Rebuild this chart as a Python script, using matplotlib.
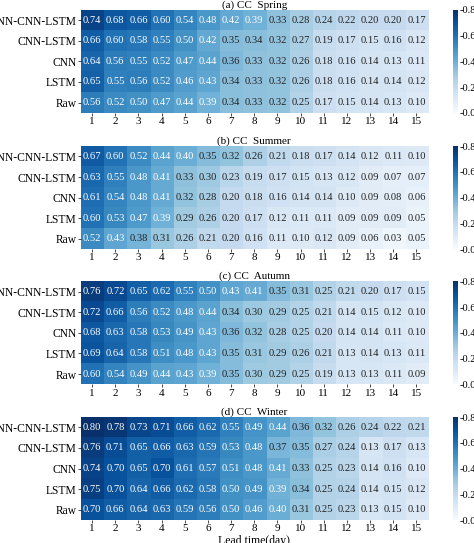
import numpy as np
import matplotlib
matplotlib.use("Agg")
import matplotlib.pyplot as plt

plt.rcParams['font.family'] = ['Liberation Serif', 'DejaVu Serif']

models = ["CNN-CNN-LSTM", "CNN-LSTM", "CNN", "LSTM", "Raw"]
lead_days = list(range(1, 16))
titles = ["(a) CC  Spring", "(b) CC  Summer", "(c) CC  Autumn", "(d) CC  Winter"]

spring = [
    [0.74, 0.68, 0.66, 0.60, 0.54, 0.48, 0.42, 0.39, 0.33, 0.28, 0.24, 0.22, 0.20, 0.20, 0.17],
    [0.66, 0.60, 0.58, 0.55, 0.50, 0.42, 0.35, 0.34, 0.32, 0.27, 0.19, 0.17, 0.15, 0.16, 0.12],
    [0.64, 0.56, 0.55, 0.52, 0.47, 0.44, 0.36, 0.33, 0.32, 0.26, 0.18, 0.16, 0.14, 0.13, 0.11],
    [0.65, 0.55, 0.56, 0.52, 0.46, 0.43, 0.34, 0.33, 0.32, 0.26, 0.18, 0.16, 0.14, 0.14, 0.12],
    [0.56, 0.52, 0.50, 0.47, 0.44, 0.39, 0.34, 0.33, 0.32, 0.25, 0.17, 0.15, 0.14, 0.13, 0.10],
]
summer = [
    [0.67, 0.60, 0.52, 0.44, 0.40, 0.35, 0.32, 0.26, 0.21, 0.18, 0.17, 0.14, 0.12, 0.11, 0.10],
    [0.63, 0.55, 0.48, 0.41, 0.33, 0.30, 0.23, 0.19, 0.17, 0.15, 0.13, 0.12, 0.09, 0.07, 0.07],
    [0.61, 0.54, 0.48, 0.41, 0.32, 0.28, 0.20, 0.18, 0.16, 0.14, 0.14, 0.10, 0.09, 0.08, 0.06],
    [0.60, 0.53, 0.47, 0.39, 0.29, 0.26, 0.20, 0.17, 0.12, 0.11, 0.11, 0.09, 0.09, 0.09, 0.05],
    [0.52, 0.43, 0.38, 0.31, 0.26, 0.21, 0.20, 0.16, 0.11, 0.10, 0.12, 0.09, 0.06, 0.03, 0.05],
]
autumn = [
    [0.76, 0.72, 0.65, 0.62, 0.55, 0.50, 0.43, 0.41, 0.35, 0.31, 0.25, 0.21, 0.20, 0.17, 0.15],
    [0.72, 0.66, 0.56, 0.52, 0.48, 0.44, 0.34, 0.30, 0.29, 0.25, 0.21, 0.14, 0.15, 0.12, 0.10],
    [0.68, 0.63, 0.58, 0.53, 0.49, 0.43, 0.36, 0.32, 0.28, 0.25, 0.20, 0.14, 0.14, 0.11, 0.10],
    [0.69, 0.64, 0.58, 0.51, 0.48, 0.43, 0.35, 0.31, 0.29, 0.26, 0.21, 0.13, 0.14, 0.13, 0.11],
    [0.60, 0.54, 0.49, 0.44, 0.43, 0.39, 0.35, 0.30, 0.29, 0.25, 0.19, 0.13, 0.13, 0.11, 0.09],
]
winter = [
    [0.80, 0.78, 0.73, 0.71, 0.66, 0.62, 0.55, 0.49, 0.44, 0.36, 0.32, 0.26, 0.24, 0.22, 0.21],
    [0.76, 0.71, 0.65, 0.66, 0.63, 0.59, 0.53, 0.48, 0.37, 0.35, 0.27, 0.24, 0.13, 0.17, 0.13],
    [0.74, 0.70, 0.65, 0.70, 0.61, 0.57, 0.51, 0.48, 0.41, 0.33, 0.25, 0.23, 0.14, 0.16, 0.10],
    [0.75, 0.70, 0.64, 0.66, 0.62, 0.58, 0.50, 0.49, 0.39, 0.34, 0.25, 0.24, 0.14, 0.15, 0.12],
    [0.70, 0.66, 0.64, 0.63, 0.59, 0.56, 0.50, 0.46, 0.40, 0.31, 0.25, 0.23, 0.13, 0.15, 0.10],
]
seasons = [spring, summer, autumn, winter]

fig = plt.figure(figsize=(4.74, 5.43), dpi=100)
tops = [0.982, 0.731, 0.482, 0.232]
h = 0.190
for k, (data, title) in enumerate(zip(seasons, titles)):
    arr = np.array(data)
    ax = fig.add_axes([0.170, tops[k] - h, 0.733, h])
    im = ax.imshow(arr, cmap="Blues", vmin=0, vmax=0.8, aspect="auto")
    for i in range(arr.shape[0]):
        for j in range(arr.shape[1]):
            v = arr[i, j]
            ax.text(j, i, f"{v:.2f}", ha="center", va="center", fontsize=7.6,
                    color="white" if v >= 0.385 else "#222222")
    ax.set_xticks(range(len(lead_days)))
    ax.set_xticklabels(lead_days, fontsize=8)
    ax.set_yticks(range(len(models)))
    ax.set_yticklabels(models, fontsize=8.3)
    ax.tick_params(length=2, width=0.5, pad=1)
    for s in ax.spines.values():
        s.set_visible(False)
    ax.set_title(title, fontsize=8, pad=1)
    if k == 3:
        ax.set_xlabel("Lead time(day)", fontsize=8.5, labelpad=1)
    cax = fig.add_axes([0.955, tops[k] - h, 0.011, h])
    cb = fig.colorbar(im, cax=cax, ticks=[0, 0.2, 0.4, 0.6, 0.8])
    cb.ax.set_yticklabels(["-0.0", "-0.2", "-0.4", "-0.6", "-0.8"])
    cb.ax.tick_params(labelsize=7.5, length=0, pad=1)
    cb.outline.set_visible(False)

fig.savefig("out.png", dpi=100)
